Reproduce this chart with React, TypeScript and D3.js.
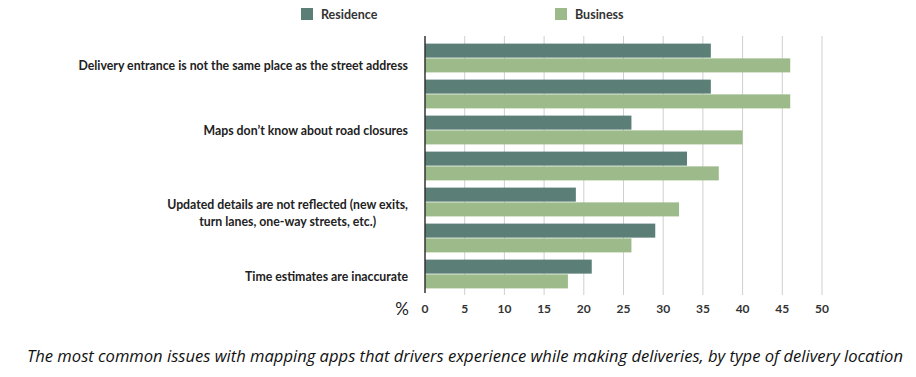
import React, { useLayoutEffect, useRef, useState } from 'react';
import * as d3 from 'd3';

// ---- data ----
const categoryLabels: string[][] = [
  ['Delivery entrance is not the same place as the street address'],
  [],
  ['Maps don\u2019t know about road closures'],
  [],
  ['Updated details are not reflected (new exits,', 'turn lanes, one-way streets, etc.)'],
  [],
  ['Time estimates are inaccurate'],
];
const residence = [36, 36, 26, 33, 19, 29, 21];
const business = [46, 46, 40, 37, 32, 26, 18];
const seriesNames = ['Residence', 'Business'];
const xTicks = [0, 5, 10, 15, 20, 25, 30, 35, 40, 45, 50];
const caption =
  'The most common issues with mapping apps that drivers experience while making deliveries, by type of delivery location';

const COLORS = ['#5b7f76', '#9dba8b'];
const FONT = 'Lato, "Open Sans", sans-serif';

function Label({ lines, cy, right }: { lines: string[]; cy: number; right: number }) {
  const ref = useRef<SVGTextElement>(null);
  const [maxW, setMaxW] = useState(0);
  useLayoutEffect(() => {
    if (!ref.current) return;
    const spans = Array.from(ref.current.querySelectorAll('tspan')) as SVGTSpanElement[];
    const w = Math.max(...spans.map((s) => s.getComputedTextLength()));
    setMaxW(w);
  }, [lines]);
  const lh = 17.5;
  const start = cy - ((lines.length - 1) * lh) / 2;
  const multi = lines.length > 1;
  return (
    <text ref={ref} textAnchor={multi ? 'middle' : 'end'} fontSize={12.3} fontWeight={700} fill="#222">
      {lines.map((l, j) => (
        <tspan key={j} x={multi ? right - maxW / 2 : right} y={start + j * lh} dy="0.35em">{l}</tspan>
      ))}
    </text>
  );
}

export default function App() {
  const W = 916;
  const H = 377;
  const x = d3.scaleLinear().domain([0, 50]).range([425, 822]);
  const idx = categoryLabels.map((_, i) => String(i));
  const y0 = d3.scaleBand().domain(idx).range([40, 292]).paddingInner(0.2).paddingOuter(0.1);
  const y1 = d3.scaleBand().domain(seriesNames).range([0, y0.bandwidth()]).paddingInner(0.05);
  const gridTop = 36;
  const gridBottom = 295;
  const labelOffsets = [8, 0, 1, 0, 11, 0, 3];
  const series = [residence, business];

  return (
    <svg width={W} height={H} style={{ position: 'absolute', left: 0, top: 0, background: '#fff' }} fontFamily={FONT}>
      {/* legend */}
      <g>
        <rect x={301} y={8} width={12} height={12} fill={COLORS[0]} />
        <text x={321} y={18.5} fontSize={12.5} fontWeight={700} fill="#333">{seriesNames[0]}</text>
        <rect x={555} y={8} width={12} height={12} fill={COLORS[1]} />
        <text x={575} y={18.5} fontSize={12.5} fontWeight={700} fill="#333">{seriesNames[1]}</text>
      </g>
      {/* grid */}
      {xTicks.filter((t) => t > 0).map((t) => (
        <line key={t} x1={x(t)} x2={x(t)} y1={gridTop} y2={gridBottom} stroke="#cfcfcf" strokeWidth={1} />
      ))}
      {/* bars */}
      {idx.map((k, i) => (
        <g key={k} transform={`translate(0,${y0(k)})`}>
          {series.map((s, j) => (
            <rect
              key={j}
              x={x(0)}
              y={y1(seriesNames[j])}
              width={x(s[i]) - x(0)}
              height={y1.bandwidth()}
              fill={COLORS[j]}
            />
          ))}
        </g>
      ))}
      {/* axis line */}
      <line x1={x(0)} x2={x(0)} y1={gridTop} y2={293} stroke="#333" strokeWidth={1.5} />
      {/* category labels */}
      {categoryLabels.map((lines, i) => {
        if (!lines.length) return null;
        const cy = (y0(String(i)) as number) + y0.bandwidth() / 2 + labelOffsets[i];
        return <Label key={i} lines={lines} cy={cy} right={408} />;
      })}
      {/* x tick labels */}
      {xTicks.map((t) => (
        <text key={t} x={x(t)} y={309} dy="0.35em" textAnchor="middle" fontSize={12} fontWeight={700} fill="#333">
          {t}
        </text>
      ))}
      <text x={409} y={309} dy="0.35em" textAnchor="end" fontSize={17} fill="#222">%</text>
      {/* caption */}
      <text x={27} y={362} fontSize={16} fontStyle="italic" fill="#111" textLength={876} lengthAdjust="spacingAndGlyphs"
        fontFamily='"Open Sans", sans-serif'>
        {caption}
      </text>
    </svg>
  );
}
